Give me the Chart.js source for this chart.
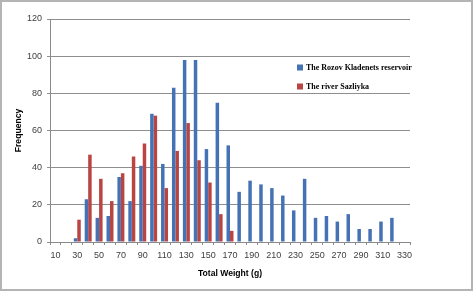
<!DOCTYPE html>
<html>
<head>
<meta charset="utf-8">
<script src="https://cdn.jsdelivr.net/npm/chart.js@4.4.1/dist/chart.umd.min.js"></script>
<style>
html,body{margin:0;padding:0;background:#fff;}
#wrap{position:relative;width:474px;height:292px;}
</style>
</head>
<body>
<div id="wrap"><canvas id="c" width="474" height="292"></canvas></div>
<script>
const categories = ['10','20','30','40','50','60','70','80','90','100','110','120','130','140','150','160','170','180','190','200','210','220','230','240','250','260','270','280','290','300','310','320','330'];
const rozovKladenets = [0,0,2,23,13,14,35,22,41,69,42,83,98,98,50,75,52,27,33,31,29,25,17,34,13,14,11,15,7,7,11,13,0];
const riverSazliyka = [0,0,12,47,34,22,37,46,53,68,29,49,64,44,32,15,6,0,0,0,0,0,0,0,0,0,0,0,0,0,0,0,0];
const yTicks = [0,20,40,60,80,100,120];
const seriesNames = ['The Rozov Kladenets reservoir','The river Sazliyka'];
const seriesColors = ['#4472B4','#B94442'];

const framePlugin = {
  id: 'frame',
  beforeDraw(chart) {
    const ctx = chart.ctx;
    ctx.save();
    ctx.fillStyle = '#ffffff';
    ctx.fillRect(0, 0, chart.width, chart.height);
    ctx.strokeStyle = '#b4b4b4';
    ctx.lineWidth = 2;
    ctx.strokeRect(1, 1, 471, 289);
    ctx.restore();
  }
};

const legendPlugin = {
  id: 'insideLegend',
  afterDraw(chart) {
    const ctx = chart.ctx;
    ctx.save();
    const rows = [67.5, 86.5];
    chart.data.datasets.forEach((ds, i) => {
      const y = rows[i];
      ctx.fillStyle = ds.backgroundColor;
      ctx.fillRect(297, y - 3, 6, 6);
      ctx.fillStyle = '#000000';
      ctx.font = 'bold 8px "Liberation Serif", "Times New Roman", serif';
      ctx.textBaseline = 'middle';
      ctx.textAlign = 'left';
      ctx.fillText(ds.label, 306, y);
    });
    ctx.restore();
  }
};

new Chart(document.getElementById('c'), {
  type: 'bar',
  data: {
    labels: categories,
    datasets: [
      { label: seriesNames[0], data: rozovKladenets, backgroundColor: seriesColors[0], borderWidth: 0 },
      { label: seriesNames[1], data: riverSazliyka, backgroundColor: seriesColors[1], borderWidth: 0 }
    ]
  },
  options: {
    responsive: false,
    animation: false,
    devicePixelRatio: 1,
    layout: { padding: { top: 19, right: 64, bottom: 0, left: 0 } },
    datasets: { bar: { categoryPercentage: 0.64, barPercentage: 1.0 } },
    plugins: {
      legend: { display: false },
      tooltip: { enabled: false }
    },
    scales: {
      x: {
        afterFit(scale) { scale.height = 50; },
        grid: { display: true, drawOnChartArea: false, drawTicks: true, tickLength: 3, color: '#8a8a8a', offset: true },
        border: { display: true, color: '#8a8a8a', width: 1 },
        ticks: {
          autoSkip: false, maxRotation: 0, minRotation: 0, padding: 5,
          color: '#404040',
          font: { family: '"Liberation Sans", Arial, sans-serif', size: 9 },
          callback(value, index) { return index % 2 === 0 ? categories[index] : ''; }
        },
        title: {
          display: true, text: 'Total Weight (g)', color: '#000000',
          font: { family: '"Liberation Sans", Arial, sans-serif', size: 8.6, weight: 'bold' },
          padding: { top: 0, bottom: 13.6 }
        }
      },
      y: {
        min: 0, max: 120,
        afterFit(scale) { scale.width = 50; },
        afterBuildTicks(scale) { scale.ticks = yTicks.map(v => ({ value: v })); },
        grid: { color: '#8e8e8e', lineWidth: 1, drawTicks: true, tickLength: 3 },
        border: { display: true, color: '#8a8a8a', width: 1 },
        ticks: {
          padding: 5, color: '#404040',
          font: { family: '"Liberation Sans", Arial, sans-serif', size: 9 }
        },
        title: {
          display: true, text: 'Frequency', color: '#000000',
          font: { family: '"Liberation Sans", Arial, sans-serif', size: 8.6, weight: 'bold' },
          padding: { top: 13, bottom: 0 }
        }
      }
    }
  },
  plugins: [framePlugin, legendPlugin]
});
</script>
</body>
</html>
